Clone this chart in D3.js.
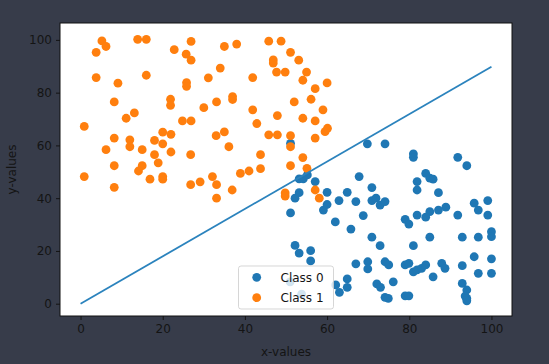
<!DOCTYPE html>
<html><head><meta charset="utf-8">
<script src="https://cdn.jsdelivr.net/npm/d3@7/dist/d3.min.js"></script>
<style>
html,body{margin:0;padding:0;background:#373c4a;}
svg{display:block;}
text{font-family:"DejaVu Sans",sans-serif;}
</style></head>
<body>
<svg id="chart" width="549" height="364"></svg>
<script>
const class0X = [51.1,53.2,54.2,55.2,57.1,52.2,53.2,60.0,59.1,60.0,51.1,62.9,64.9,67.0,67.8,70.9,70.9,71.9,72.9,74.1,69.8,74.1,68.8,62.0,81.0,81.0,91.8,94.0,84.0,85.0,85.8,81.9,81.9,87.1,95.8,96.8,99.1,88.9,87.1,85.0,81.9,79.0,91.8,99.1,79.9,84.0,85.0,81.0,92.9,96.8,100.0,100.0,95.8,100.0,92.9,96.8,100.0,87.9,88.7,75.0,79.0,79.9,81.0,81.9,83.0,84.0,85.8,76.1,92.9,94.0,93.6,94.0,94.0,79.0,79.9,74.1,74.9,72.1,73.0,64.9,64.9,62.1,63.0,67.0,69.9,69.9,74.1,65.8,70.9,72.9,52.2,53.2,56.0,56.0,51.0,53.8];
const class0Y = [60.8,47.3,47.3,48.8,46.3,40.0,42.1,42.2,35.5,37.6,34.4,39.1,42.2,38.7,48.2,44.0,39.1,40.0,37.4,38.7,60.6,60.6,33.4,31.0,56.8,55.5,55.5,52.3,49.4,47.6,47.2,46.3,43.1,42.1,38.1,35.5,39.1,36.6,35.5,34.9,33.6,32.0,33.6,33.6,30.2,32.8,25.2,22.0,25.2,25.2,27.3,25.4,17.8,17.0,14.4,11.5,11.5,15.3,13.4,14.7,14.7,15.3,12.1,12.8,13.4,14.7,10.2,8.3,7.7,5.2,2.9,2.0,1.1,3.0,3.0,2.4,2.0,7.5,6.2,9.4,6.2,7.1,4.3,15.1,15.9,13.2,15.9,28.3,25.2,22.0,22.1,19.2,20.1,16.2,8.3,3.6];
const class1X = [5.2,6.2,3.8,13.9,16.0,22.8,26.9,25.7,26.9,35.0,38.0,3.8,9.1,16.0,25.8,25.8,31.1,34.0,8.2,21.9,21.9,30.0,33.1,37.0,37.0,11.1,13.1,0.9,24.8,26.9,20.0,22.0,33.0,35.0,8.2,12.0,18.0,45.8,48.8,51.1,46.9,46.9,53.1,47.7,49.8,55.0,54.1,60.0,57.1,41.9,41.9,52.0,56.1,59.0,47.9,42.9,54.1,57.1,45.8,47.9,51.1,57.1,59.5,60.1,12.0,6.2,15.0,20.0,22.0,18.0,18.9,15.0,14.1,8.2,0.9,8.2,16.9,20.0,20.0,26.8,36.1,26.8,29.1,32.1,33.1,33.1,36.9,38.9,41.0,43.8,43.8,51.1,54.1,51.1,55.1,49.8,49.8,57.1,58.1];
const class1Y = [99.6,97.5,95.3,100.2,100.2,96.3,99.4,94.6,92.3,97.5,98.4,85.7,83.6,86.6,83.8,82.4,85.6,89.3,76.5,77.5,75.2,74.3,76.5,78.5,77.4,70.3,72.3,67.2,69.3,69.3,65.0,64.2,63.7,65.1,62.8,62.1,61.9,99.5,99.5,95.3,92.4,91.2,92.3,87.8,87.8,87.8,84.7,83.7,81.5,85.7,73.5,76.5,77.5,73.5,71.3,68.3,70.3,69.3,64.0,64.0,63.7,62.8,65.2,66.5,59.5,58.4,58.4,60.6,57.5,56.5,53.4,52.3,50.3,52.3,48.2,44.1,47.2,48.2,47.2,56.5,59.5,45.1,46.2,48.2,45.1,40.0,43.1,49.4,50.3,56.5,51.2,59.5,55.4,52.3,51.3,42.0,40.8,43.1,40.0];
const lineX = [0, 100];
const lineY = [0, 89.8];
const xTicks = [0, 20, 40, 60, 80, 100];
const yTicks = [0, 20, 40, 60, 80, 100];
const seriesNames = ["Class 0", "Class 1"];
const colors = ["#1f77b4", "#ff7f0e"];

const svg = d3.select("#chart");
const L = 60, R = 512, T = 23, B = 316;
const x = d3.scaleLinear().domain([-5, 105]).range([L, R]);
const y = d3.scaleLinear().domain([-4.66, 106.4]).range([B, T]);

svg.append("rect").attr("x", L).attr("y", T).attr("width", R - L).attr("height", B - T).attr("fill", "#ffffff");

const txt = "#141414";
const xAxis = svg.append("g").attr("transform", `translate(0,${B})`)
  .call(d3.axisBottom(x).tickValues(xTicks).tickSize(4).tickPadding(4));
const yAxis = svg.append("g").attr("transform", `translate(${L},0)`)
  .call(d3.axisLeft(y).tickValues(yTicks).tickSize(4).tickPadding(4));
[xAxis, yAxis].forEach(g => {
  g.select(".domain").remove();
  g.selectAll("line").attr("stroke", txt).attr("stroke-width", 1);
  g.selectAll("text").attr("fill", txt).style("font-size", "12px").style("font-family", "DejaVu Sans");
});

const pts0 = class0X.map((v, i) => [v, class0Y[i]]);
const pts1 = class1X.map((v, i) => [v, class1Y[i]]);
const plot = svg.append("g");
plot.selectAll("circle.c0").data(pts0).enter().append("circle").attr("class", "c0")
  .attr("cx", d => x(d[0])).attr("cy", d => y(d[1])).attr("r", 4.4).attr("fill", colors[0]);
plot.selectAll("circle.c1").data(pts1).enter().append("circle").attr("class", "c1")
  .attr("cx", d => x(d[0])).attr("cy", d => y(d[1])).attr("r", 4.4).attr("fill", colors[1]);

plot.append("path").datum(lineX.map((v, i) => [v, lineY[i]]))
  .attr("d", d3.line().x(d => x(d[0])).y(d => y(d[1])))
  .attr("fill", "none").attr("stroke", "#2b83bd").attr("stroke-width", 1.8);

svg.append("rect").attr("x", L).attr("y", T).attr("width", R - L).attr("height", B - T)
  .attr("fill", "none").attr("stroke", "#111").attr("stroke-width", 1);

// legend
const lg = svg.append("g").attr("transform", "translate(238.5,266)");
lg.append("rect").attr("width", 95).attr("height", 43).attr("rx", 2.5)
  .attr("fill", "rgba(255,255,255,0.8)").attr("stroke", "rgba(204,204,204,0.8)").attr("stroke-width", 1);
seriesNames.forEach((n, i) => {
  lg.append("circle").attr("cx", 18.2).attr("cy", 11.3 + i * 20.4).attr("r", 4.4).attr("fill", colors[i]);
  lg.append("text").attr("x", 42).attr("y", 11.3 + i * 20.4).attr("dy", "0.35em")
    .attr("fill", txt).style("font-size", "12px").text(n);
});

svg.append("text").attr("x", (L + R) / 2).attr("y", 352).attr("dy", "0.35em").attr("text-anchor", "middle")
  .attr("fill", txt).style("font-size", "12px").text("x-values");
svg.append("text").attr("transform", `translate(12,${(T + B) / 2}) rotate(-90)`).attr("dy", "0.35em")
  .attr("text-anchor", "middle").attr("fill", txt).style("font-size", "12px").text("y-values");
</script>
</body></html>
